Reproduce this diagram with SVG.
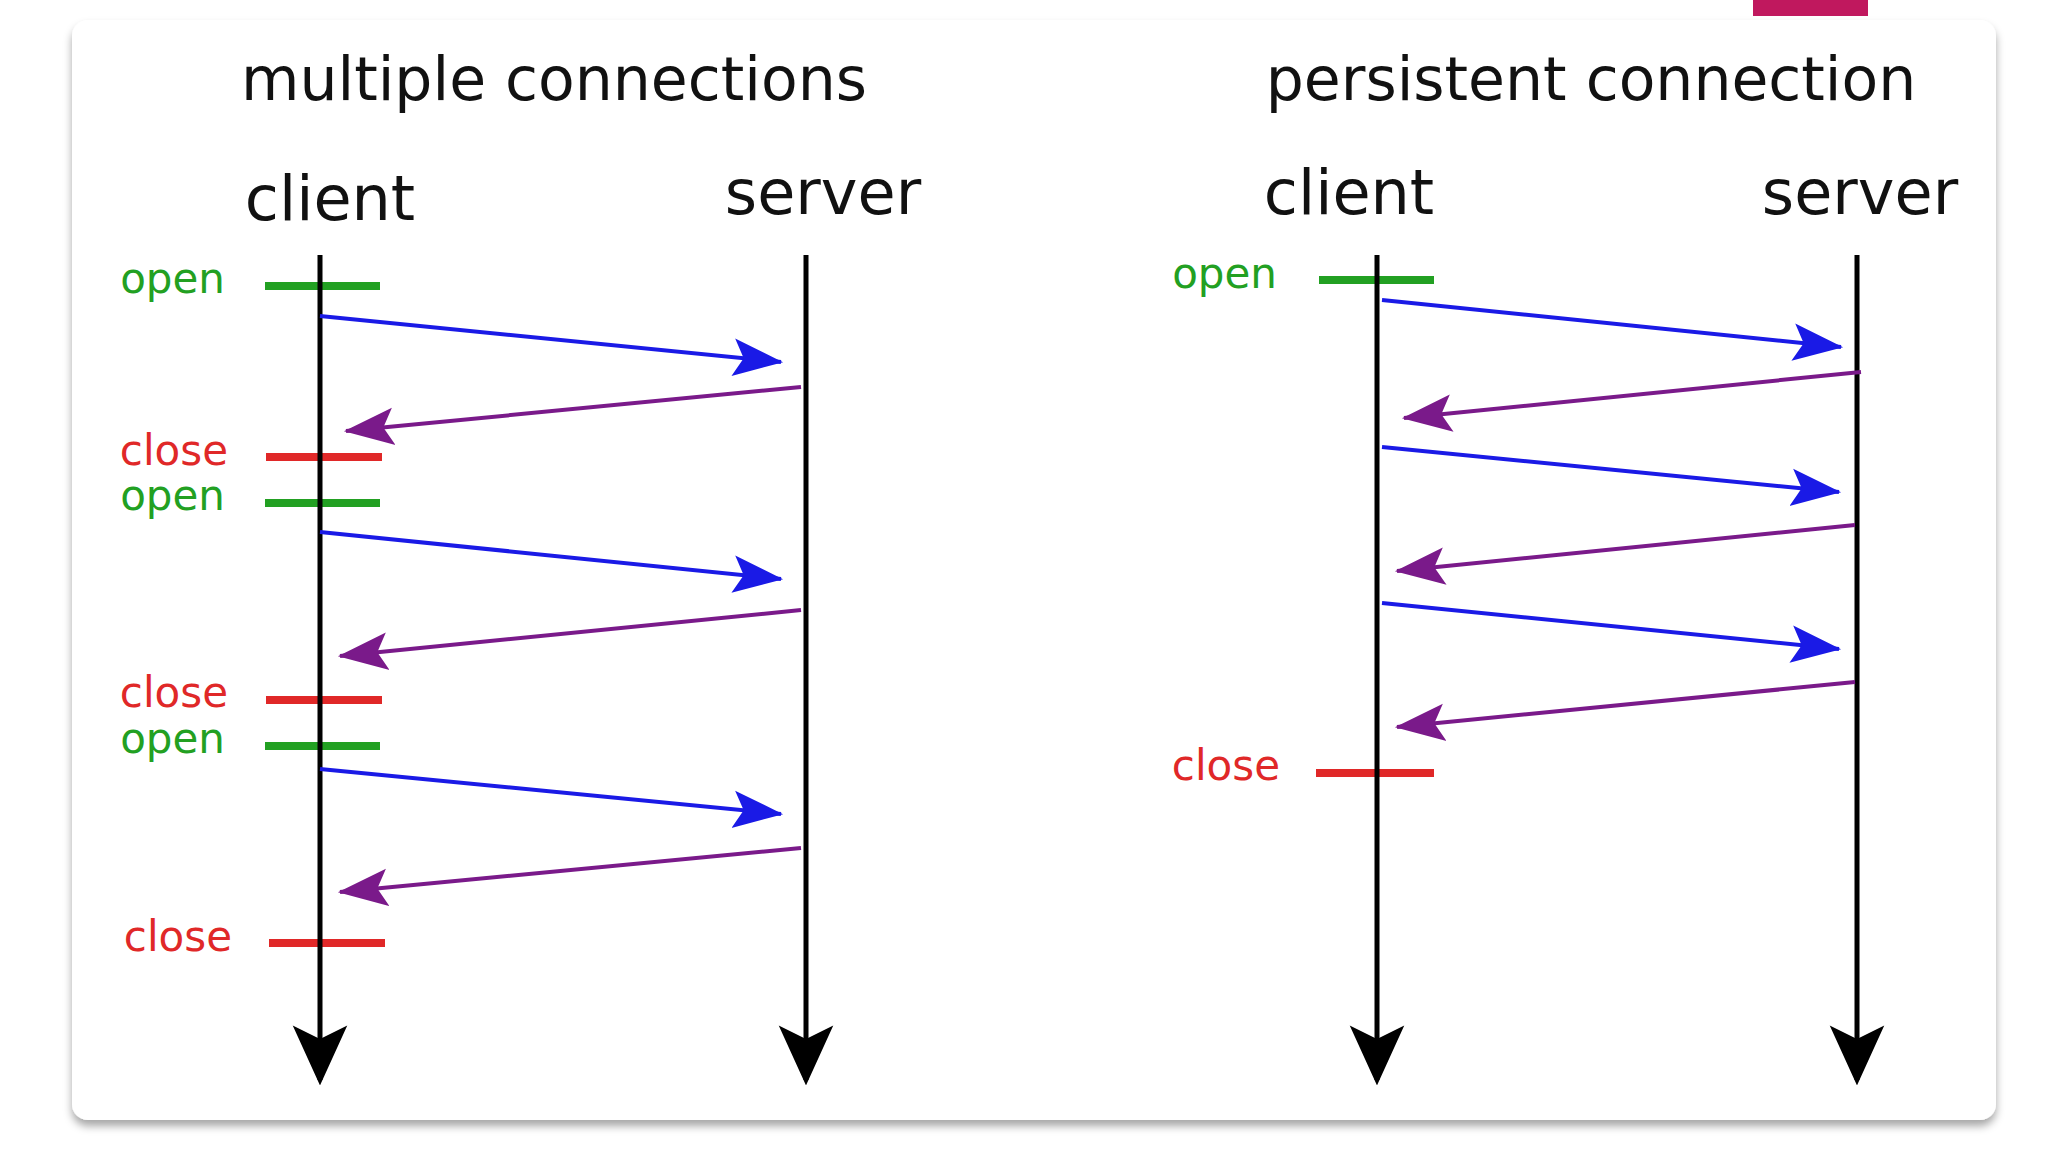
<svg xmlns="http://www.w3.org/2000/svg" width="2048" height="1152" viewBox="0 0 2048 1152">
<style>
.t{font-family:"DejaVu Sans",Verdana,sans-serif;fill:#111}
.h{font-size:60px}
.c{font-size:62px}
.l{font-family:"DejaVu Sans",Verdana,sans-serif;font-size:42px;text-anchor:end}
.g{fill:#22a022}.r{fill:#e02828}
.gb{stroke:#22a022;stroke-width:8}.rb{stroke:#e02828;stroke-width:8}
.v{stroke:#000;stroke-width:5;fill:none;marker-end:url(#vk)}
.b{stroke:#1a1ae6;stroke-width:4;marker-end:url(#bk)}
.p{stroke:#7a1a8a;stroke-width:4;marker-end:url(#pk)}
</style>
<defs>
<marker id="vk" markerUnits="userSpaceOnUse" markerWidth="60" markerHeight="60" refX="40" refY="20" orient="auto" viewBox="0 0 44 40"><path d="M0,0 L44,20 L0,40 L10,20Z" fill="#000"/></marker>
<marker id="bk" markerUnits="userSpaceOnUse" markerWidth="50" markerHeight="40" refX="46" refY="18" orient="auto" viewBox="0 0 48 36"><path d="M0,0 L48,18 L0,36 L10,18Z" fill="#1a1ae6"/></marker>
<marker id="pk" markerUnits="userSpaceOnUse" markerWidth="50" markerHeight="40" refX="46" refY="18" orient="auto" viewBox="0 0 48 36"><path d="M0,0 L48,18 L0,36 L10,18Z" fill="#7a1a8a"/></marker>
<filter id="sh"><feDropShadow dx="0" dy="6" stdDeviation="4" flood-opacity="0.35"/></filter>
</defs>
<rect width="2048" height="1152" fill="#fff"/>
<rect x="72" y="20" width="1924" height="1100" rx="16" fill="#fff" filter="url(#sh)"/>
<rect x="1753" y="0" width="115" height="16" fill="#c0185e"/>
<g id="titles">
<text class="t h" x="554" y="100" text-anchor="middle">multiple connections</text>
<text class="t h" x="1591" y="100" text-anchor="middle">persistent connection</text>
<text class="t c" x="330" y="220" text-anchor="middle">client</text>
<text class="t c" x="823" y="214" text-anchor="middle">server</text>
<text class="t c" x="1349" y="214" text-anchor="middle">client</text>
<text class="t c" x="1860" y="214" text-anchor="middle">server</text>
</g>
<g id="labels">
<text class="l g" x="225" y="293">open</text><line class="gb" x1="265" y1="286" x2="380" y2="286"/>
<text class="l r" x="228" y="465">close</text><line class="rb" x1="266" y1="457" x2="382" y2="457"/>
<text class="l g" x="225" y="510">open</text><line class="gb" x1="265" y1="503" x2="380" y2="503"/>
<text class="l r" x="228" y="707">close</text><line class="rb" x1="266" y1="700" x2="382" y2="700"/>
<text class="l g" x="225" y="753">open</text><line class="gb" x1="265" y1="746" x2="380" y2="746"/>
<text class="l r" x="232" y="951">close</text><line class="rb" x1="269" y1="943" x2="385" y2="943"/>
<text class="l g" x="1277" y="288">open</text><line class="gb" x1="1319" y1="280" x2="1434" y2="280"/>
<text class="l r" x="1280" y="780">close</text><line class="rb" x1="1316" y1="773" x2="1434" y2="773"/>
</g>
<g id="connectors">
<line class="v" x1="320" y1="255" x2="320" y2="1080"/>
<line class="v" x1="806" y1="255" x2="806" y2="1080"/>
<line class="v" x1="1377" y1="255" x2="1377" y2="1080"/>
<line class="v" x1="1857" y1="255" x2="1857" y2="1080"/>
<line class="b" x1="320" y1="316" x2="781" y2="362"/>
<line class="p" x1="801" y1="387" x2="346" y2="431"/>
<line class="b" x1="320" y1="532" x2="781" y2="579"/>
<line class="p" x1="801" y1="610" x2="340" y2="656"/>
<line class="b" x1="320" y1="769" x2="781" y2="814"/>
<line class="p" x1="801" y1="848" x2="340" y2="892"/>
<line class="b" x1="1382" y1="300" x2="1841" y2="347"/>
<line class="p" x1="1861" y1="372" x2="1404" y2="418"/>
<line class="b" x1="1382" y1="447" x2="1839" y2="492"/>
<line class="p" x1="1855" y1="525" x2="1397" y2="571"/>
<line class="b" x1="1382" y1="603" x2="1839" y2="649"/>
<line class="p" x1="1855" y1="682" x2="1397" y2="727"/>
</g>
</svg>
